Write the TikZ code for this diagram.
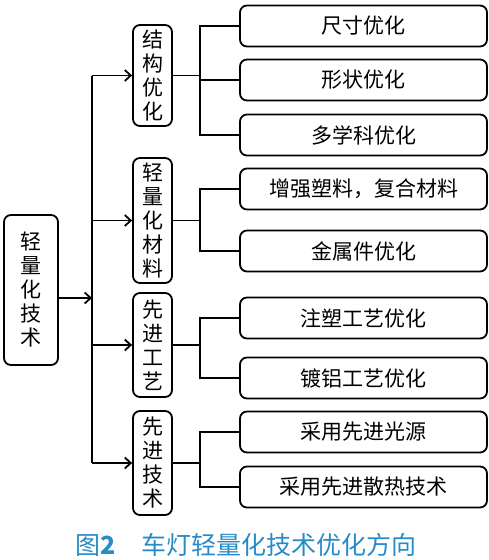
\documentclass[tikz,border=0pt]{standalone}
\usepackage{fontspec}
\newfontfamily\cjk{Noto Sans CJK SC}
\usetikzlibrary{arrows.meta}
\definecolor{capblue}{RGB}{38,140,200}

\tikzset{
  box/.style={draw, line width=1.8pt, rounded corners=7pt, inner sep=0pt,
    align=center, font=\cjk\fontsize{21}{24}\selectfont},
  vbox/.style={box, minimum width=39pt},
  leaf/.style={box, minimum width=247pt, minimum height=41pt},
  link/.style={line width=1.8pt},
  arr/.style={link, -{Straight Barb[length=6pt,width=11pt]}}
}

\begin{document}
\begin{tikzpicture}[x=1pt,y=-1pt]
	\useasboundingbox (0,0) rectangle (489,560);

	% root
	\node[box, minimum width=54pt, minimum height=150pt] (root) at (31,290)
		{轻\\量\\化\\技\\术};

	% second level
	\node[vbox, minimum height=101pt] (jiegou) at (152.5,75.5) {结\\构\\优\\化};
	\node[vbox, minimum height=125pt] (cailiao) at (152.5,220.5) {轻\\量\\化\\材\\料};
	\node[vbox, minimum height=104pt] (gongyi) at (152.5,345) {先\\进\\工\\艺};
	\node[vbox, minimum height=104pt] (jishu) at (152.5,463) {先\\进\\技\\术};

	% leaves
	\node[leaf] (chicun) at (363.5,26) {尺寸优化};
	\node[leaf] (xingzhuang) at (363.5,80) {形状优化};
	\node[leaf] (duoxueke) at (363.5,135) {多学科优化};
	\node[leaf] (suliao) at (363.5,189) {增强塑料，复合材料};
	\node[leaf] (jinshu) at (363.5,251) {金属件优化};
	\node[leaf] (zhusu) at (363.5,318) {注塑工艺优化};
	\node[leaf] (dulv) at (363.5,378) {镀铝工艺优化};
	\node[leaf] (guangyuan) at (363.5,432) {采用先进光源};
	\node[leaf] (sanre) at (363.5,487) {采用先进散热技术};

	% trunk and brackets
	\coordinate (trunk) at (92,0);
	\coordinate (brk) at (200,0);

	\draw[arr] ([yshift=-8pt]root.east) -- ([yshift=-8pt]root.east -| trunk);
	\draw[link] (jiegou.west -| trunk) -- (jishu.west -| trunk);
	\draw[arr] (jiegou.west -| trunk) -- (jiegou.west);
	\draw[arr] (cailiao.west -| trunk) -- (cailiao.west);
	\draw[arr] (gongyi.west -| trunk) -- (gongyi.west);
	\draw[arr] (jishu.west -| trunk) -- (jishu.west);

	% bracket for jiegou
	\draw[link] (chicun.west) -- (chicun.west -| brk) -- (duoxueke.west -| brk) -- (duoxueke.west);
	\draw[link] (jiegou.east) -- (jiegou.east -| brk);
	\draw[link] (xingzhuang.west) -- (xingzhuang.west -| brk);

	% bracket for cailiao
	\draw[link] (suliao.west) -- (suliao.west -| brk) -- (jinshu.west -| brk) -- (jinshu.west);
	\draw[link] (cailiao.east) -- (cailiao.east -| brk);

	% bracket for gongyi
	\draw[link] (zhusu.west) -- (zhusu.west -| brk) -- (dulv.west -| brk) -- (dulv.west);
	\draw[link] (gongyi.east) -- (gongyi.east -| brk);

	% bracket for jishu
	\draw[link] (guangyuan.west) -- (guangyuan.west -| brk) -- (sanre.west -| brk) -- (sanre.west);
	\draw[link] (jishu.east) -- (jishu.east -| brk);

	% caption
	\node[capblue, font=\cjk\fontsize{25}{27}\selectfont, anchor=west] (caption) at (72,545)
		{图\textbf{2}\hspace{26pt}车灯轻量化技术优化方向};
\end{tikzpicture}
\end{document}
